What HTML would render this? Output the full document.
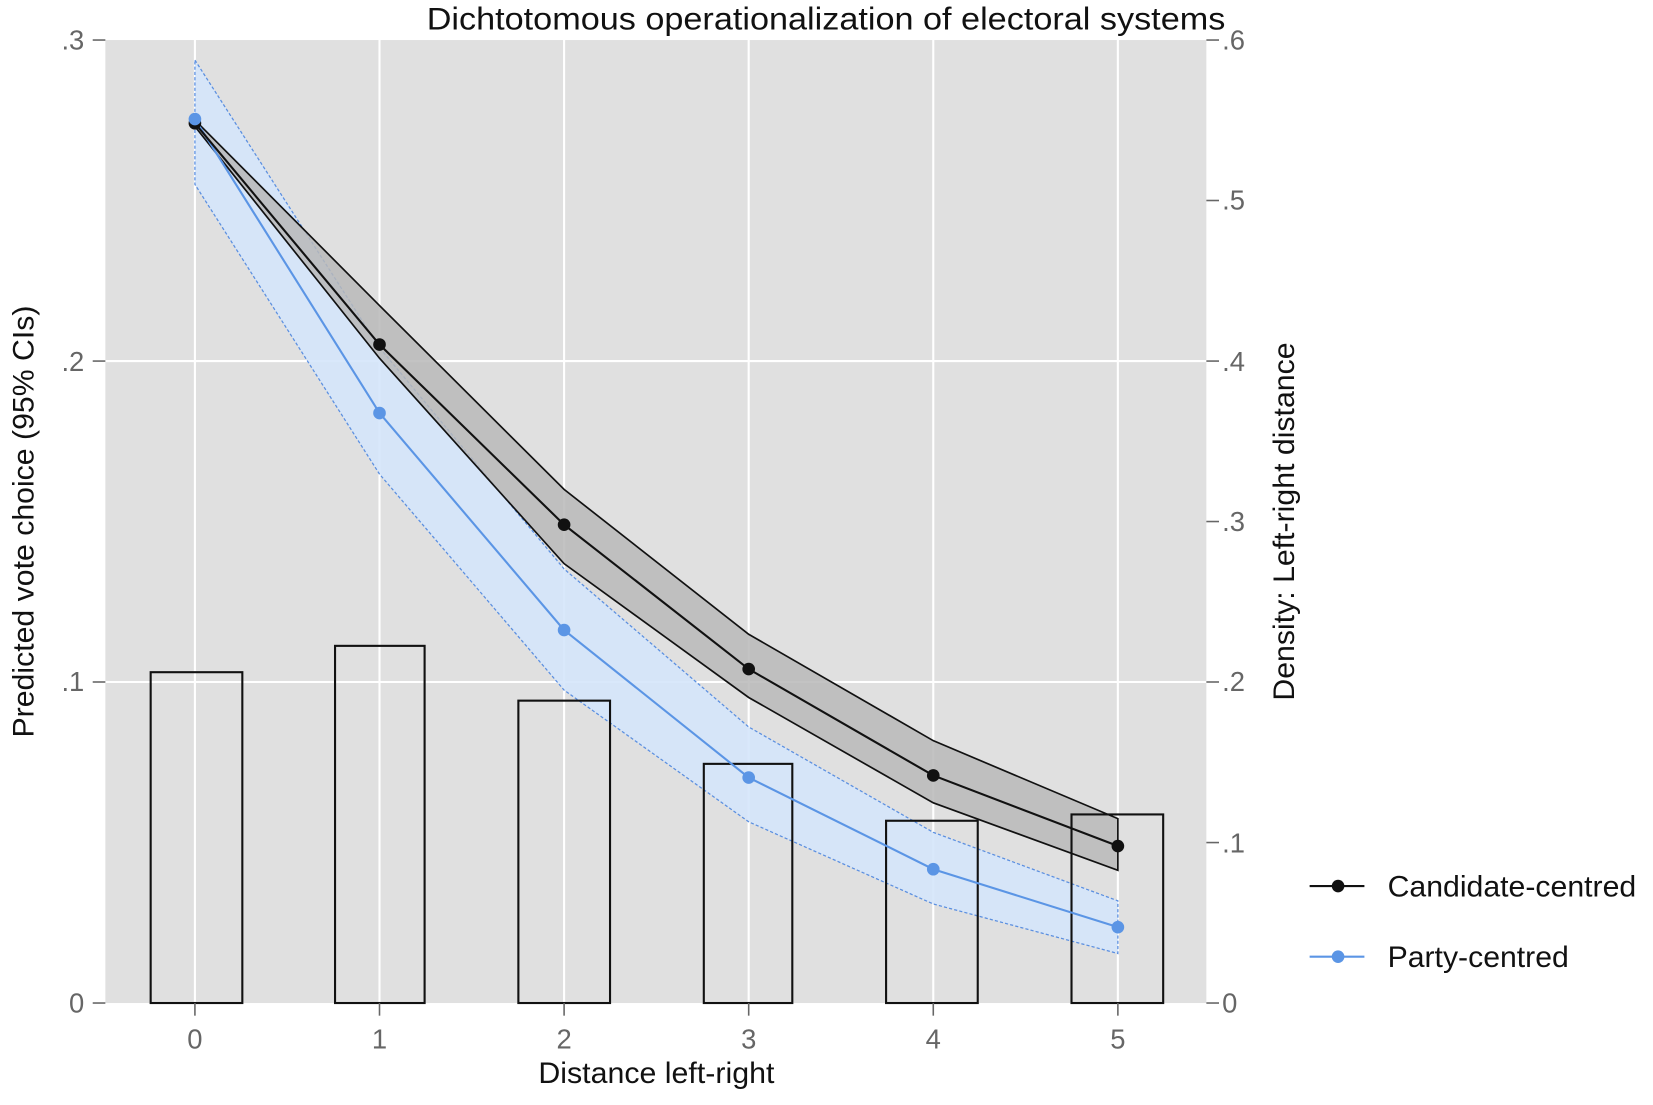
<!DOCTYPE html>
<html><head><meta charset="utf-8"><style>
html,body{margin:0;padding:0;background:#fff;}
svg{display:block;font-family:"Liberation Sans",sans-serif;}
</style></head><body>
<svg width="1653" height="1105" viewBox="0 0 1653 1105" xmlns="http://www.w3.org/2000/svg">
<g transform="scale(1.0536)">
<rect x="100" y="38" width="1045" height="914" fill="#e0e0e0"/>
<g stroke="#fff" stroke-width="2">
<line x1="185" y1="38" x2="185" y2="952"/><line x1="360.2" y1="38" x2="360.2" y2="952"/>
<line x1="535.4" y1="38" x2="535.4" y2="952"/><line x1="710.6" y1="38" x2="710.6" y2="952"/>
<line x1="885.8" y1="38" x2="885.8" y2="952"/><line x1="1061" y1="38" x2="1061" y2="952"/>
<line x1="100" y1="647.3" x2="1145" y2="647.3"/><line x1="100" y1="342.7" x2="1145" y2="342.7"/>
</g>
<path d="M185,57 L360.2,330 L535.4,540 L710.6,690 L885.8,790 L1061,855 L1061,905 L885.8,858 L710.6,780 L535.4,655 L360.2,450 L185,175 Z" fill="#d5e5fb" fill-opacity="0.9" stroke="#5b8fe0" stroke-width="1.2" stroke-dasharray="3,2"/>
<path d="M185,114 L360.2,290 L535.4,464.5 L710.6,602 L885.8,703 L1061,777 L1061,826 L885.8,762 L710.6,662 L535.4,535 L360.2,340 L185,120 Z" fill="#b9b9b9" fill-opacity="0.85" stroke="#111" stroke-width="1.6"/>
<g fill="none" stroke="#111" stroke-width="2">
<rect x="143" y="638" width="87" height="314"/>
<rect x="318" y="613" width="85" height="339"/>
<rect x="492" y="665" width="87" height="287"/>
<rect x="668" y="725" width="84" height="227"/>
<rect x="841" y="779" width="87" height="173"/>
<rect x="1017" y="773" width="87" height="179"/>
</g>
<polyline points="185,113 360.2,392 535.4,598 710.6,738 885.8,825 1061,880" fill="none" stroke="#5b95e5" stroke-width="2"/>
<polyline points="185,117 360.2,327 535.4,498 710.6,635 885.8,736 1061,803" fill="none" stroke="#111" stroke-width="2"/>
<g fill="#111"><circle cx="185" cy="117" r="6"/><circle cx="360.2" cy="327" r="6"/><circle cx="535.4" cy="498" r="6"/><circle cx="710.6" cy="635" r="6"/><circle cx="885.8" cy="736" r="6"/><circle cx="1061" cy="803" r="6"/></g>
<g fill="#5b95e5"><circle cx="185" cy="113" r="6"/><circle cx="360.2" cy="392" r="6"/><circle cx="535.4" cy="598" r="6"/><circle cx="710.6" cy="738" r="6"/><circle cx="885.8" cy="825" r="6"/><circle cx="1061" cy="880" r="6"/></g>
<g stroke="#666" stroke-width="1.5">
<line x1="88" y1="38" x2="100" y2="38"/><line x1="88" y1="342.7" x2="100" y2="342.7"/><line x1="88" y1="647.3" x2="100" y2="647.3"/><line x1="88" y1="952" x2="100" y2="952"/>
<line x1="1145" y1="38" x2="1157" y2="38"/><line x1="1145" y1="190.3" x2="1157" y2="190.3"/><line x1="1145" y1="342.7" x2="1157" y2="342.7"/><line x1="1145" y1="495" x2="1157" y2="495"/><line x1="1145" y1="647.3" x2="1157" y2="647.3"/><line x1="1145" y1="799.7" x2="1157" y2="799.7"/><line x1="1145" y1="952" x2="1157" y2="952"/>
<line x1="185" y1="952" x2="185" y2="964"/><line x1="360.2" y1="952" x2="360.2" y2="964"/><line x1="535.4" y1="952" x2="535.4" y2="964"/><line x1="710.6" y1="952" x2="710.6" y2="964"/><line x1="885.8" y1="952" x2="885.8" y2="964"/><line x1="1061" y1="952" x2="1061" y2="964"/>
</g>
<g fill="#666" font-size="26">
<g text-anchor="end"><text x="80" y="47">.3</text><text x="80" y="352">.2</text><text x="80" y="656">.1</text><text x="80" y="961">0</text></g>
<text x="1160" y="47">.6</text><text x="1160" y="199">.5</text><text x="1160" y="352">.4</text><text x="1160" y="504">.3</text><text x="1160" y="656">.2</text><text x="1160" y="809">.1</text><text x="1160" y="961">0</text>
<g text-anchor="middle"><text x="185" y="995">0</text><text x="360.2" y="995">1</text><text x="535.4" y="995">2</text><text x="710.6" y="995">3</text><text x="885.8" y="995">4</text><text x="1061" y="995">5</text></g>
</g>
<g fill="#111">
<text x="405" y="28" font-size="30" textLength="758" lengthAdjust="spacingAndGlyphs">Dichtotomous operationalization of electoral systems</text>
<text x="511" y="1028" font-size="28" textLength="224" lengthAdjust="spacingAndGlyphs">Distance left-right</text>
<text transform="translate(32,700) rotate(-90)" font-size="28" textLength="410" lengthAdjust="spacingAndGlyphs">Predicted vote choice (95% CIs)</text>
<text transform="translate(1228,665) rotate(-90)" font-size="28" textLength="340" lengthAdjust="spacingAndGlyphs">Density: Left-right distance</text>
<line x1="1243" y1="841" x2="1295" y2="841" stroke="#111" stroke-width="2"/><circle cx="1270" cy="841" r="6"/>
<text x="1317" y="851" font-size="28" textLength="236" lengthAdjust="spacingAndGlyphs">Candidate-centred</text>
<line x1="1243" y1="908" x2="1295" y2="908" stroke="#5b95e5" stroke-width="2"/><circle cx="1270" cy="908" r="6" fill="#5b95e5"/>
<text x="1317" y="918" font-size="28" textLength="172" lengthAdjust="spacingAndGlyphs">Party-centred</text>
</g>
</g>
</svg>
</body></html>
